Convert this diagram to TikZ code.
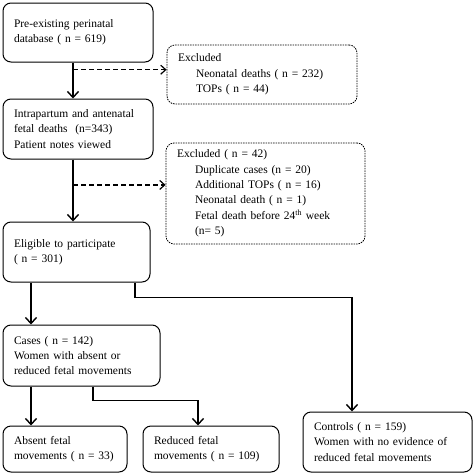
\documentclass[tikz,border=0pt]{standalone}
\usepackage{fontspec}
\setmainfont{Liberation Serif}
\usetikzlibrary{arrows.meta,calc}
\begin{document}
\begin{tikzpicture}[x=1pt,y=-1pt,
  box/.style={draw, line width=1pt, rounded corners=8pt, align=left, inner xsep=11pt, inner ysep=0pt, font=\fontsize{11.5}{15.4}\selectfont},
  exbox/.style={box, dash pattern=on 1.5pt off 1pt, line width=0.8pt},
  arr/.style={line width=1.4pt, -{Straight Barb[length=6pt,width=11pt]}},
  darr/.style={line width=1.2pt, dash pattern=on 5pt off 3pt, -{Straight Barb[length=5pt,width=9pt]}}]
\useasboundingbox (0,0) rectangle (474,474);
\node[box, minimum width=150pt, minimum height=59pt, text width=128pt] (b1) at (78,32.5) {Pre-existing perinatal\\database ( n = 619)};
\node[exbox, minimum width=190pt, minimum height=59pt, text width=168pt] (ex1) at (262,74.5) {Excluded\\\hspace*{18pt}Neonatal deaths ( n = 232)\\\hspace*{18pt}TOPs ( n = 44)};
\node[box, minimum width=150pt, minimum height=60pt, text width=128pt] (b2) at (78,129) {Intrapartum and antenatal\\fetal deaths~ (n=343)\\Patient notes viewed};
\node[exbox, minimum width=199pt, minimum height=101pt, text width=177pt] (ex2) at (265.5,193.5) {Excluded ( n = 42)\\\hspace*{18pt}Duplicate cases (n = 20)\\\hspace*{18pt}Additional TOPs ( n = 16)\\\hspace*{18pt}Neonatal death ( n = 1)\\\hspace*{18pt}Fetal death before 24\textsuperscript{th} week\\\hspace*{18pt}(n= 5)};
\node[box, minimum width=147pt, minimum height=60pt, text width=125pt] (b3) at (76.5,252) {Eligible to participate\\( n = 301)};
\node[box, minimum width=157pt, minimum height=61pt, text width=135pt] (cases) at (81.5,355.5) {Cases ( n = 142)\\Women with absent or\\reduced fetal movements};
\node[box, minimum width=124pt, minimum height=46pt, text width=102pt] (absent) at (65,449) {Absent fetal\\movements ( n = 33)};
\node[box, minimum width=136pt, minimum height=46pt, text width=114pt] (reduced) at (211,449) {Reduced fetal\\movements ( n = 109)};
\node[box, minimum width=169pt, minimum height=60pt, text width=147pt] (controls) at (387.5,442) {Controls ( n = 159)\\Women with no evidence of\\reduced fetal movements};
% main flow
\coordinate (s1) at ([xshift=-5pt]b1.south);
\draw[arr] (s1) -- (s1 |- b2.north);
\coordinate (s2) at ([xshift=-5pt]b2.south);
\draw[arr] (s2) -- (s2 |- b3.north);
% dashed exclusions
\coordinate (d1) at ($(s1)!0.2!(s1 |- b2.north)$);
\draw[darr] (d1) -- (d1 -| ex1.west);
\coordinate (d2) at ($(s2)!0.41!(s2 |- b3.north)$);
\draw[darr] (d2) -- (d2 -| ex2.west);
% eligible split
\coordinate (s3) at ([xshift=-45.5pt]b3.south);
\draw[arr] (s3) -- (s3 |- cases.north);
\coordinate (s4) at ([xshift=58.5pt]b3.south);
\coordinate (e4) at ([xshift=-35.5pt]controls.north);
\draw[arr] (s4) -- ++(0,15) -| (e4);
% cases split
\coordinate (s5) at ([xshift=-50.5pt]cases.south);
\draw[arr] (s5) -- (s5 |- absent.north);
\coordinate (s6) at ([xshift=11.5pt]cases.south);
\coordinate (e6) at ([xshift=-13pt]reduced.north);
\draw[arr] (s6) -- ++(0,14) -| (e6);
\end{tikzpicture}
\end{document}
